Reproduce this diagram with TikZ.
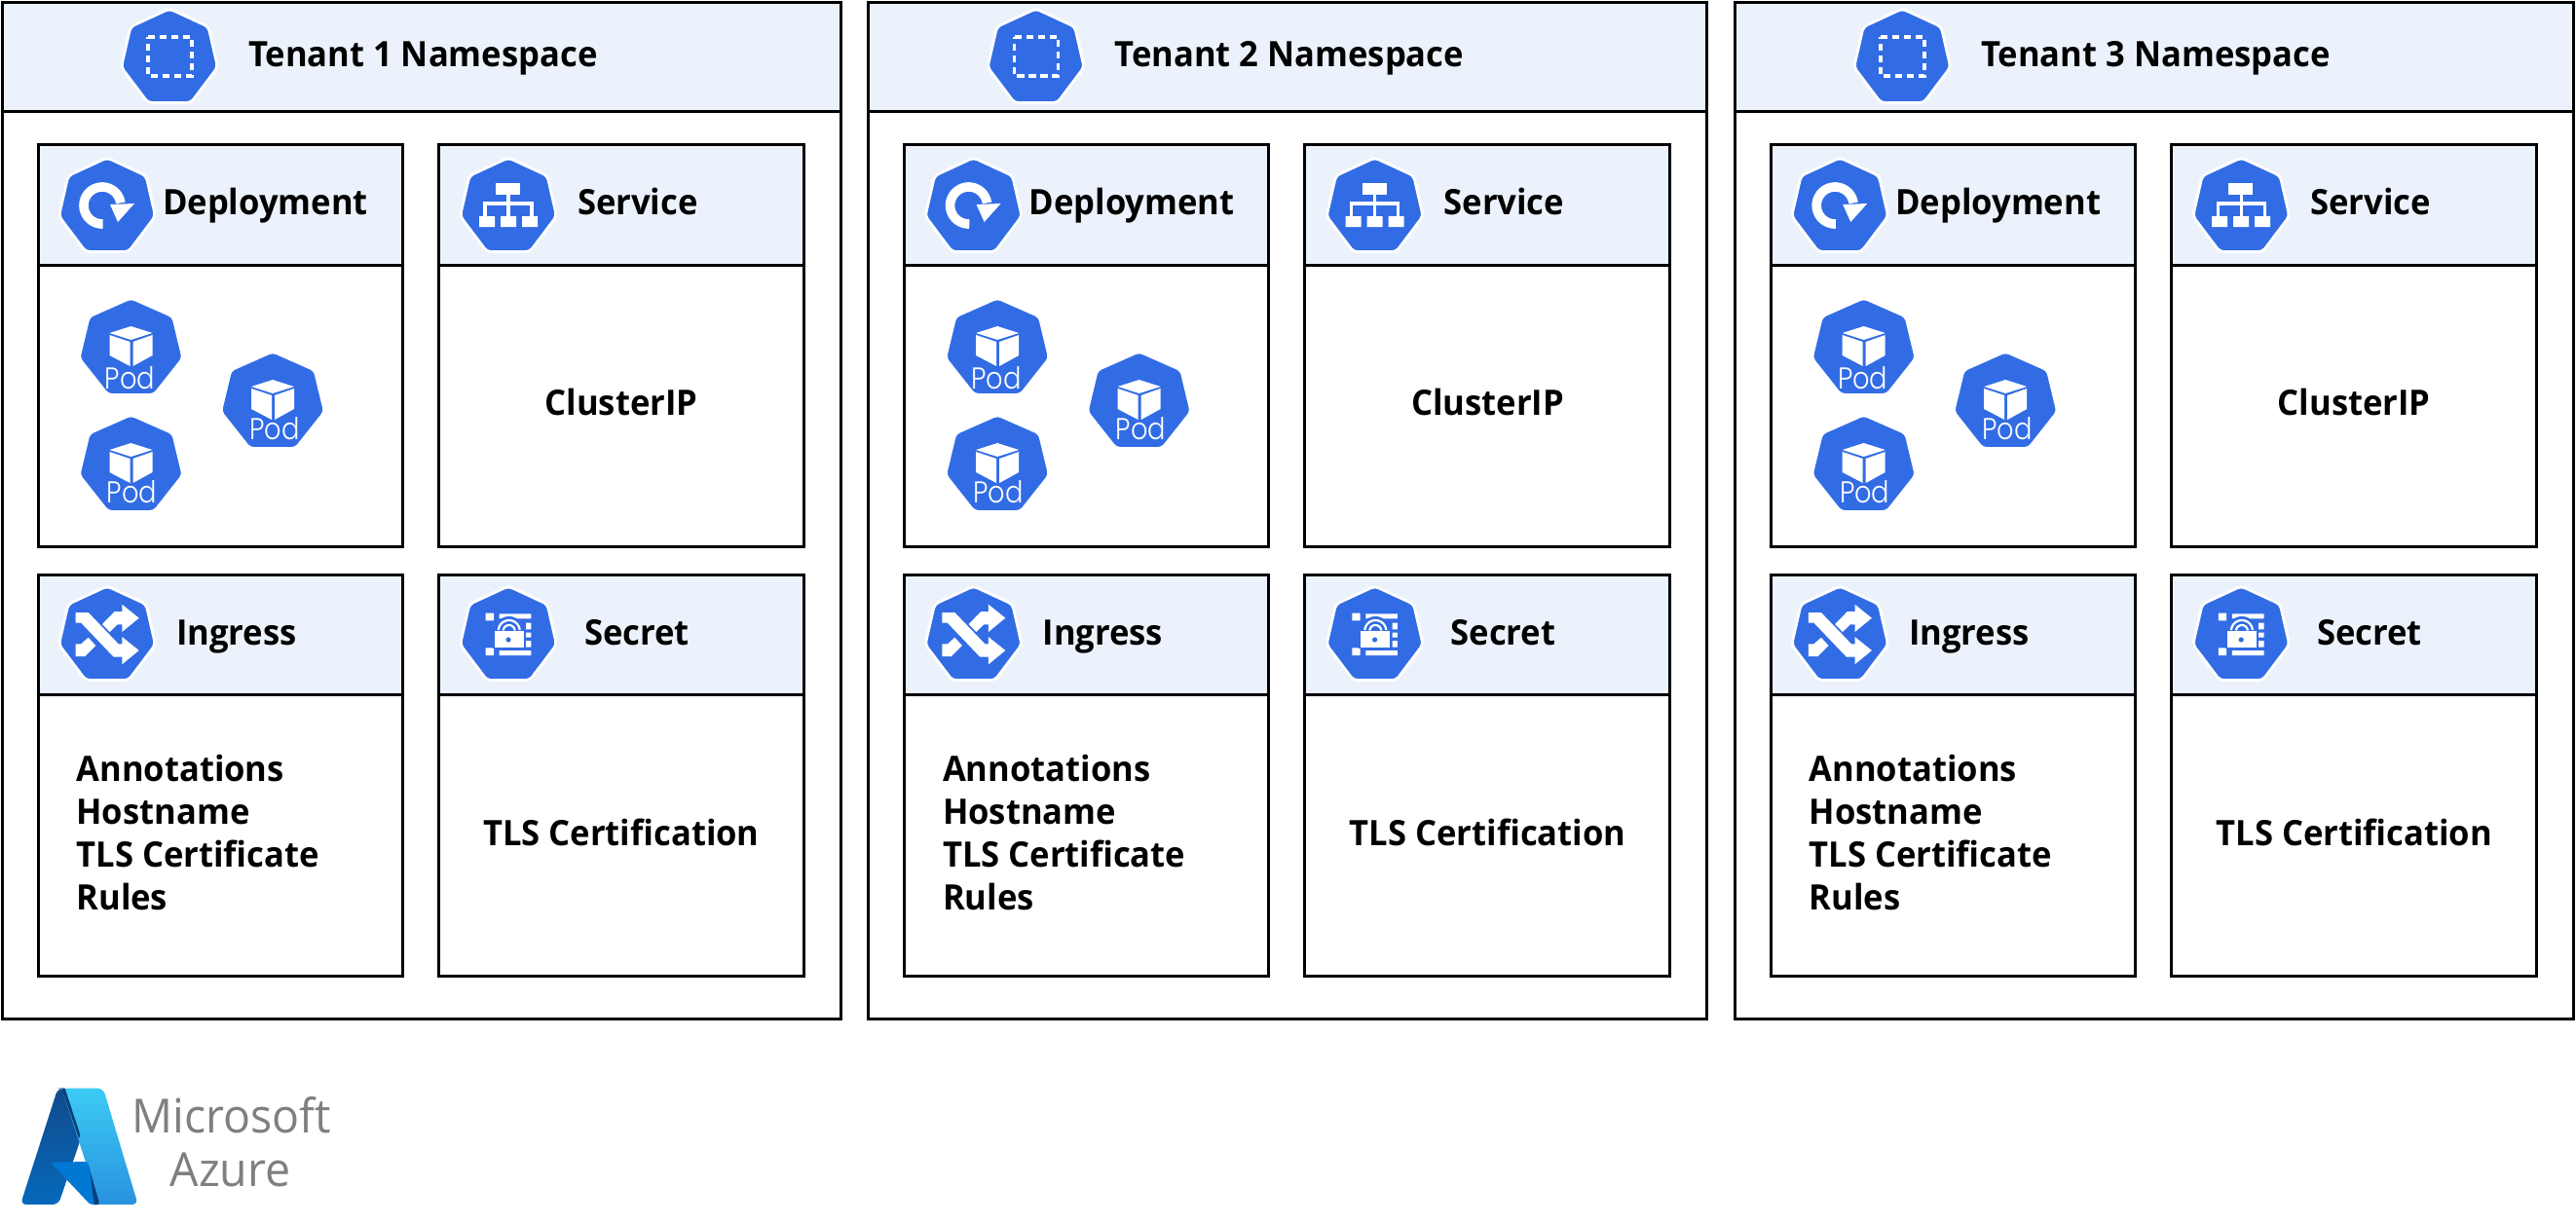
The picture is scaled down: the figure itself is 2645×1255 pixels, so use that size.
\documentclass[tikz,border=0pt]{standalone}
\usepackage{fontspec}
\setmainfont[FakeStretch=0.96]{Open Sans}
\newfontfamily\podfont[UprightFont=* Light,FakeStretch=0.88]{Poppins}
\usetikzlibrary{calc}
\definecolor{kblue}{HTML}{326CE5}
\definecolor{hdr}{HTML}{EBF2FB}
\definecolor{msgray}{HTML}{7F7F7F}
\definecolor{azA}{HTML}{114A8B}
\definecolor{azB}{HTML}{0669BC}
\definecolor{azC}{HTML}{3CCBF4}
\definecolor{azD}{HTML}{2892DF}
\definecolor{azE}{HTML}{0078D4}
\definecolor{azF}{HTML}{0A3F78}
\tikzset{
  boxline/.style={draw=black,line width=1.5pt},
  headbox/.style={boxline,fill=hdr},
  lbl/.style={anchor=base west,inner sep=0pt,outer sep=0pt,text=black,font=\fontsize{18}{22}\selectfont\bfseries},
  lblc/.style={lbl,anchor=base},
  podlbl/.style={anchor=base,inner sep=0pt,text=white,font=\fontsize{15.5}{18}\podfont},
  logolbl/.style={anchor=base,inner sep=0pt,text=msgray,font=\fontsize{24.2}{28}\selectfont},
}
% centre x, top y, x scale, y scale
\newcommand{\heptshape}[4]{%
  \filldraw[fill=kblue,draw=white,line width=1.4pt,line join=round,rounded corners=2pt,shift={(#1,#2)},xscale=#3,yscale=#4]
    (0,0)--(40,18.5)--(49.5,60)--(22,96.5)--(-22,96.5)--(-49.5,60)--(-40,18.5)--cycle;}
\newcommand{\nsicon}[2]{\begin{scope}[shift={(#1,#2)}]
  \draw[white,line width=1.8pt,dash pattern=on 3.6pt off 2.4pt] (-22,28)--(23,28)--(23,68)--(-22,68)--cycle;
\end{scope}}
\newcommand{\depicon}[2]{\begin{scope}[shift={(#1,#2)}]
  \draw[white,line width=4.8pt] plot[domain=88:352,samples=50] ({-5+19*cos(\x)},{48+19*sin(\x)});
  \fill[white] (3,47)--(28,46)--(11,65)--cycle;
\end{scope}}
\newcommand{\svcicon}[2]{\begin{scope}[shift={(#1,#2)}]
  \fill[white] (-13,25) rectangle (12,37);
  \fill[white] (-30,59) rectangle (-14,70) (-8,59) rectangle (8,70) (14,59) rectangle (30,70);
  \draw[white,line width=1.6pt] (0,37)--(0,59) (-24,59)--(-24,46)--(24,46)--(24,59);
\end{scope}}
\newcommand{\ingicon}[2]{\begin{scope}[shift={(#1,#2)}]
  \fill[white] (-32.3,26)--(-19.3,26)--(11.7,58.3)--(15.3,58.3)--(15.3,51)--(32.7,65)--(15.3,79.3)--(15.3,71.7)--(6.7,71.7)--(-26.7,36.7)--(-32.3,36.7)--cycle;
  \fill[white] (-5,38)--(7.7,25)--(15.3,25)--(15.3,17.7)--(32.7,31.7)--(15.3,46)--(15.3,38.3)--(10.7,38.3)--(2.7,46)--cycle;
  \fill[white] (-32.3,58.3)--(-26.7,58.3)--(-19.3,51.7)--(-11.7,60)--(-22.7,71)--(-32.3,71)--cycle;
\end{scope}}
\newcommand{\secicon}[2]{\begin{scope}[shift={(#1,#2)}]
  \fill[white] (-23.3,26.7) rectangle (-15,34.3) (-23.3,62.3) rectangle (-15,70);
  \fill[white] (-9.3,27.3) rectangle (23.3,32.3) (-9.3,65) rectangle (23.3,70);
  \fill[white] (18,36.7) rectangle (23.3,43.3) (18,46.7) rectangle (23.3,51.7) (18,55) rectangle (23.3,61.7);
  \fill[kblue] (-16.5,42) rectangle (17.5,63);
  \draw[kblue,line width=3pt] plot[domain=185:355,samples=30] ({0.7+12*cos(\x)},{45+12*sin(\x)});
  \draw[white,line width=1.1pt] plot[domain=185:355,samples=30] ({0.7+11*cos(\x)},{45+11*sin(\x)});
  \draw[white,line width=1.1pt] plot[domain=185:355,samples=30] ({0.7+6*cos(\x)},{45+6*sin(\x)});
  \fill[white] (-14.3,45) rectangle (15.7,61.7);
  \fill[kblue] (0,54) circle[radius=1.3pt];
\end{scope}}
\newcommand{\podcube}[2]{\begin{scope}[shift={(#1,#2)}]
  \fill[white] (0,27)--(22,34)--(0,41)--(-22,34)--cycle;
  \fill[white] (-22,36)--(-1,43)--(-1,68)--(-22,57)--cycle;
  \fill[white] (22,36)--(2,43)--(2,68)--(22,57)--cycle;
\end{scope}}
\begin{document}
\begin{tikzpicture}[x=0.5pt,y=-0.5pt]
\useasboundingbox (0,0) rectangle (2645,1255);
\fill[white] (0,0) rectangle (2645,1255);
\foreach \n/\dx in {1/0,2/889.6,3/1779.2}{
\begin{scope}[shift={(\dx,0)}]
  % namespace
  \draw[boxline,fill=white] (2,2) rectangle (863,1046);
  \draw[headbox] (2,2) rectangle (863,114);
  \heptshape{174}{9}{1}{1}
  \nsicon{174}{10}
  \node[lbl] (ns\n) at (255,68.5) {Tenant \n\ Namespace};
  % deployment
  \draw[boxline,fill=white] (39,148) rectangle (413,561);
  \draw[headbox] (39,148) rectangle (413,272);
  \heptshape{110}{162}{1}{1}
  \depicon{110}{163}
  \node[lbl] (dep\n) at (167,220.5) {Deployment};
  \heptshape{134.5}{306}{1.08}{1.03}
  \podcube{134.5}{308}
  \node[podlbl] (poda\n) at (133.5,399) {Pod};
  \heptshape{280}{361}{1.08}{1.03}
  \podcube{280}{363}
  \node[podlbl] (podb\n) at (282,451) {Pod};
  \heptshape{134.5}{426}{1.08}{1.03}
  \podcube{134.5}{428}
  \node[podlbl] (podc\n) at (135.5,516) {Pod};
  % service
  \draw[boxline,fill=white] (450,148) rectangle (825,561);
  \draw[headbox] (450,148) rectangle (825,272);
  \heptshape{522}{162}{1}{1}
  \svcicon{522}{163}
  \node[lbl] (svc\n) at (593,220.5) {Service};
  \node[lblc] (cip\n) at (638,426.5) {ClusterIP};
  % ingress
  \draw[boxline,fill=white] (39,590) rectangle (413,1002);
  \draw[headbox] (39,590) rectangle (413,713);
  \heptshape{110}{602}{1}{1}
  \ingicon{110}{603}
  \node[lbl] (ing\n) at (181,662.5) {Ingress};
  \node[lbl] (ann\n) at (78.5,802) {Annotations};
  \node[lbl] (hst\n) at (78.5,846) {Hostname};
  \node[lbl] (tlc\n) at (78.5,890) {TLS Certificate};
  \node[lbl] (rul\n) at (78.5,934) {Rules};
  % secret
  \draw[boxline,fill=white] (450,590) rectangle (825,1002);
  \draw[headbox] (450,590) rectangle (825,713);
  \heptshape{522}{602}{1}{1}
  \secicon{522}{603}
  \node[lbl] (sec\n) at (600,662.5) {Secret};
  \node[lblc] (tls\n) at (638,868) {TLS Certification};
\end{scope}
}
% Azure logo
\begin{scope}[shift={(0,1090)},x=0.16667pt,y=-0.16667pt]
  \shade[top color=azA,bottom color=azB,rounded corners=3pt]
    (178,83)--(195,83)--(250,235)--(180,441)--(63,441)--cycle;
  \shade[top color=azC,bottom color=azD,rounded corners=3pt]
    (190,83)--(318,83)--(425,441)--(290,441)--(303,430)--cycle;
  \fill[azE,rounded corners=1pt] (155,311)--(270,309)--(305,441)--(278,441)--cycle;
  \fill[azF] (272,320)--(305,432)--(303,441)--(290,441)--(278,345)--cycle;
  \fill[azF] (190,83)--(200,83)--(247,226)--(243,238)--cycle;
\end{scope}
\node[logolbl] (msft) at (237.5,1163) {Microsoft};
\node[logolbl] (azure) at (236.5,1218) {Azure};
\end{tikzpicture}
\end{document}
